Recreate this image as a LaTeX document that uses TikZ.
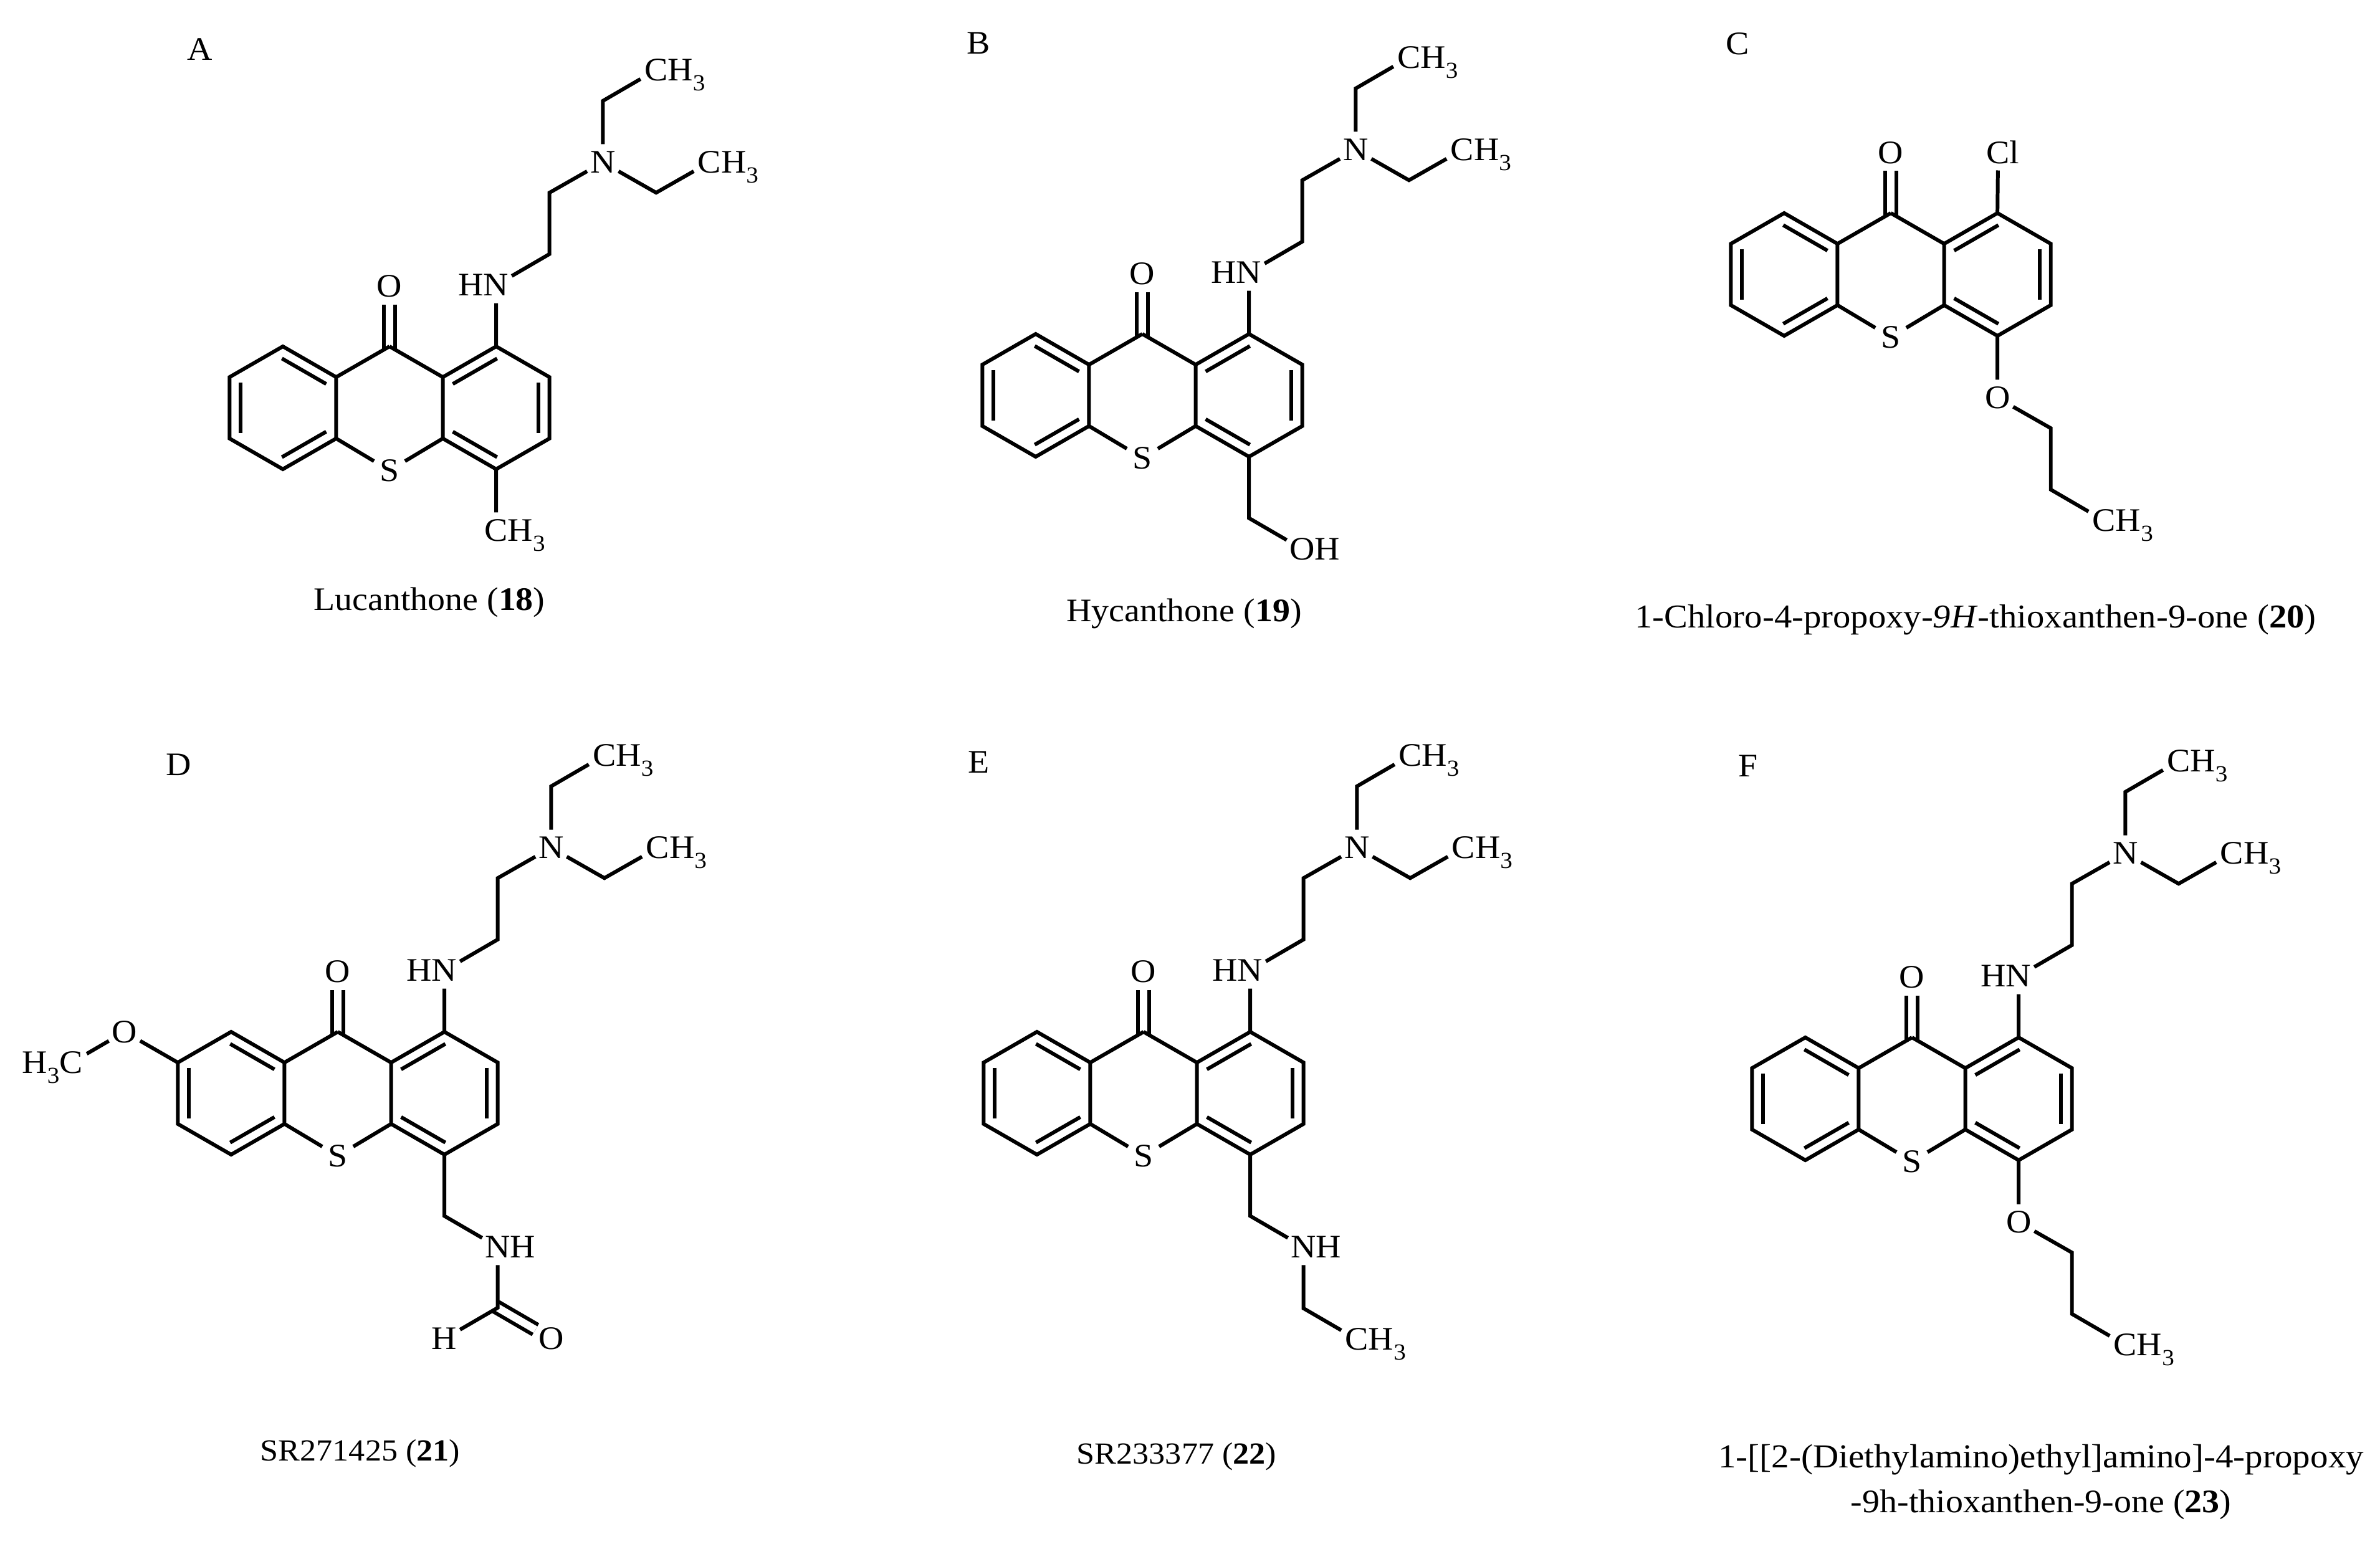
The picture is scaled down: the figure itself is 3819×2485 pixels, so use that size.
\documentclass[tikz,border=0pt]{standalone}
\usepackage{fontspec}
\setmainfont[FakeStretch=1.06]{Liberation Serif}
\usepackage{tikz}
\usetikzlibrary{calc}

\newcommand{\subiii}{\raisebox{-.3em}{\fontsize{10.5pt}{12pt}\selectfont 3}}
\newcommand{\chiii}{C\rlap{\smash{H\subiii}}}
\newcommand{\hiiic}{\llap{\smash{H\subiii}}C}

\begin{document}
\begin{tikzpicture}[x=0.01cm,y=-0.01cm,font=\fontsize{15pt}{18pt}\selectfont,
		mol/.style={scale=.995},
		bond/.style={line width=1.7pt},
		inner bond/.style={bond,shorten <=-.5pt,shorten >=-.5pt},
		double bond/.style={line width=1.7pt,double,double distance=3.4pt,shorten >=-1pt},
		atom/.style={circle,inner sep=0pt,outer sep=0pt,minimum size=16.5pt},
		letter/.style={inner sep=0pt},
		caption/.style={inner sep=0pt,anchor=base,align=center}]
		\useasboundingbox (0,0) rectangle (3819,2485);

		\foreach \m/\x/\y in {a/625/556,b/1833/536,c/3034/342,d/542/1656,e/1835/1656,f/3068/1665} {
			\begin{scope}[shift={(\x,\y)},mol]
				\coordinate (\m-c9) at (0,0);
				\coordinate (\m-c9a) at (86,49.5);
				\coordinate (\m-c1) at (172,0);
				\coordinate (\m-c2) at (258,49.5);
				\coordinate (\m-c3) at (258,148.5);
				\coordinate (\m-c4) at (172,198);
				\coordinate (\m-c4a) at (86,148.5);
				\coordinate (\m-c10a) at (-86,148.5);
				\coordinate (\m-c8a) at (-86,49.5);
				\coordinate (\m-c8) at (-172,0);
				\coordinate (\m-c7) at (-258,49.5);
				\coordinate (\m-c6) at (-258,148.5);
				\coordinate (\m-c5) at (-172,198);
				\coordinate (\m-l) at (-172,99);
				\coordinate (\m-r) at (172,99);
				\node[atom] (\m-s) at (0,200) {S};
				\node[atom] (\m-o) at (0,-97) {O};
				\draw[double bond] (\m-o) -- (\m-c9);
				\draw[bond] (\m-c9) -- (\m-c9a) -- (\m-c1) -- (\m-c2) -- (\m-c3) -- (\m-c4) -- (\m-c4a) -- (\m-c9a);
				\draw[bond] (\m-c4a) -- (\m-s) -- (\m-c10a) -- (\m-c5) -- (\m-c6) -- (\m-c7) -- (\m-c8) -- (\m-c8a) -- (\m-c10a);
				\draw[bond] (\m-c8a) -- (\m-c9);
				\foreach \p/\q/\r in {c8/c8a/l,c7/c6/l,c5/c10a/l,c9a/c1/r,c2/c3/r,c4/c4a/r}
					\draw[inner bond] ($(\m-\p)!.205!(\m-\r)$) -- ($(\m-\q)!.205!(\m-\r)$);
			\end{scope}
		}

		\foreach \m in {a,b,d,e,f} {
			\begin{scope}[shift={(\m-c9)},mol]
				\node[atom] (\m-hn) at (172,-99) {\llap{H}N};
				\coordinate (\m-p1) at (258,-149);
				\coordinate (\m-p2) at (258,-248);
				\node[atom] (\m-n) at (344,-297) {N};
				\coordinate (\m-p3) at (344,-396);
				\node[atom] (\m-me1) at (430,-446) {\chiii};
				\coordinate (\m-p4) at (430,-248);
				\node[atom] (\m-me2) at (516,-297) {\chiii};
				\draw[bond] (\m-c1) -- (\m-hn) -- (\m-p1) -- (\m-p2) -- (\m-n);
				\draw[bond] (\m-n) -- (\m-p3) -- (\m-me1);
				\draw[bond] (\m-n) -- (\m-p4) -- (\m-me2);
			\end{scope}
		}

		\begin{scope}[shift={(a-c9)},mol]
			\node[atom] (a-me3) at (172,297) {\chiii};
			\draw[bond] (a-c4) -- (a-me3);
		\end{scope}

		\begin{scope}[shift={(b-c9)},mol]
			\coordinate (b-p5) at (172,297);
			\node[atom] (b-oh) at (258,347) {O\rlap{H}};
			\draw[bond] (b-c4) -- (b-p5) -- (b-oh);
		\end{scope}

		\begin{scope}[shift={(c-c9)},mol]
			\node[atom] (c-cl) at (173,-98) {C\rlap{l}};
			\node[atom] (c-o4) at (172,298) {O};
			\coordinate (c-p5) at (258,347);
			\coordinate (c-p6) at (258,446);
			\node[atom] (c-me3) at (344,496) {\chiii};
			\draw[bond] (c-c1) -- (c-cl);
			\draw[bond] (c-c4) -- (c-o4) -- (c-p5) -- (c-p6) -- (c-me3);
		\end{scope}

		\begin{scope}[shift={(d-c9)},mol]
			\node[atom] (d-o7) at (-344,0) {O};
			\node[atom] (d-me3) at (-430,50) {\hiiic};
			\coordinate (d-p5) at (172,297);
			\node[atom] (d-nh) at (258,347) {N\rlap{H}};
			\coordinate (d-p6) at (258,445);
			\node[atom] (d-h) at (172,495) {H};
			\node[atom] (d-o2) at (344,495) {O};
			\draw[bond] (d-c7) -- (d-o7) -- (d-me3);
			\draw[double bond] (d-o2) -- (d-p6);
			\draw[bond] (d-c4) -- (d-p5) -- (d-nh) -- (d-p6) -- (d-h);
		\end{scope}

		\begin{scope}[shift={(e-c9)},mol]
			\coordinate (e-p5) at (172,297);
			\node[atom] (e-nh) at (258,347) {N\rlap{H}};
			\coordinate (e-p6) at (258,446);
			\node[atom] (e-me3) at (344,496) {\chiii};
			\draw[bond] (e-c4) -- (e-p5) -- (e-nh) -- (e-p6) -- (e-me3);
		\end{scope}

		\begin{scope}[shift={(f-c9)},mol]
			\node[atom] (f-o4) at (172,298) {O};
			\coordinate (f-p5) at (258,347);
			\coordinate (f-p6) at (258,446);
			\node[atom] (f-me3) at (344,496) {\chiii};
			\draw[bond] (f-c4) -- (f-o4) -- (f-p5) -- (f-p6) -- (f-me3);
		\end{scope}

		\node[letter] (la) at (321,79) {A};
		\node[letter] (lb) at (1570,69) {B};
		\node[letter] (lc) at (2788,70) {C};
		\node[letter] (ld) at (287,1227) {D};
		\node[letter] (le) at (1571,1223) {E};
		\node[letter] (lf) at (2805,1229) {F};

		\node[caption] (na) at (689,979) {Lucanthone (\textbf{18})};
		\node[caption] (nb) at (1900,997) {Hycanthone (\textbf{19})};
		\node[caption,font=\fontsize{15.2pt}{18pt}\selectfont] (nc) at (3170,1007) {1-Chloro-4-propoxy-\textit{9H}-thioxanthen-9-one (\textbf{20})};
		\node[caption,font=\fontsize{14pt}{18pt}\selectfont] (nd) at (578,2344) {SR271425 (\textbf{21})};
		\node[caption,font=\fontsize{14pt}{18pt}\selectfont] (ne) at (1888,2349) {SR233377 (\textbf{22})};
		\node[caption,font=\fontsize{15.3pt}{18pt}\selectfont] (nf1) at (3275,2355) {1-[[2-(Diethylamino)ethyl]amino]-4-propoxy};
		\node[caption] (nf2) at (3275,2427) {-9h-thioxanthen-9-one (\textbf{23})};
\end{tikzpicture}
\end{document}
